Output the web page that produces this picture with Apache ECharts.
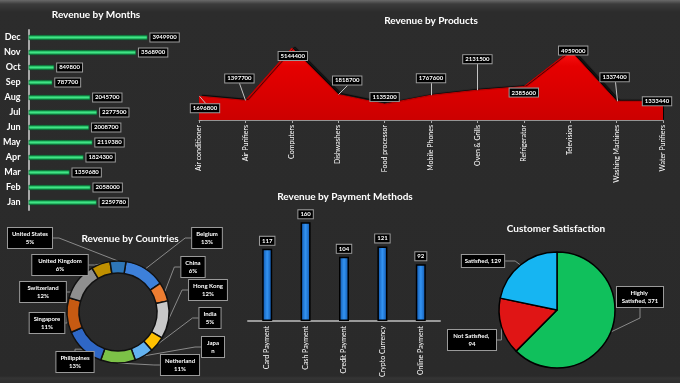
<!DOCTYPE html>
<html><head><meta charset="utf-8">
<script src="https://cdn.jsdelivr.net/npm/echarts@6/dist/echarts.min.js"></script>
<style>
html,body{margin:0;padding:0;background:#2a2a2a;}
#c{width:680px;height:383px;background:linear-gradient(to bottom,#6a6a6a 0px,#3c3c3c 4px,#2c2c2c 12px,#2a2a2a 376px,#343434 378px,#2e2e2e 383px);}
</style></head><body><div id="c"></div>
<script>
// ---- data ----
const months = ['Jan','Feb','Mar','Apr','May','Jun','Jul','Aug','Sep','Oct','Nov','Dec'];
const monthRevenue = [2259780,2058000,1359680,1824300,2119380,2008700,2277500,2045700,787700,849800,3568900,3949900];
const products = ['Air conditioner','Air Purifiers','Computers','Dishwashers','Food processor','Mobile Phones','Oven & Grills','Refrigerator','Television','Washing Machines','Water Purifiers'];
const productRevenue = [1696800,1397700,5144400,1818700,1135200,1767600,2131500,2385600,4959000,1337400,1333440];
const paymentMethods = ['Card Payment','Cash Payment','Credit Payment','Crypto Currency','Online Payment'];
const paymentValues = [117,160,104,121,92];
const countries = ['Belgium','China','Hong Kong','India','Japan','Netherland','Philippines','Singapore','Switzerland','United Kingdom','United States'];
const countryShare = [13,6,12,5,6,11,13,11,12,6,5];
const satisfactionLevels = ['Highly Satisfied','Not Satisfied','Satisfied'];
const satisfactionCounts = [371,94,129];

// ---- styles / label placement ----
const FONT = 'Lato';
const productLabelOffset = [[6,12],[-6,-22],[1,8],[9,-14],[0,-7],[0,-17],[0,-31],[0,6],[3,0],[-2,-24],[-6,0]];
const countryLabelPos = [[207,238],[193,267],[208,290],[210,318],[213,347],[180,365],[75,362],[47,323],[43,292],[60,265],[30,238]];
const satLabelPos = [[640,297],[472,340],[483,261]];
const countryColors = ['#3d80da','#ee7d31','#c8c8c8','#ffc000','#63b2f0','#7cc247','#2f67c6','#c65a12','#8f8f8f','#c09000','#2e76b8'];
const satColors = ['#10c05c','#e01515','#16b5f2'];
const G = echarts.graphic.LinearGradient;
const titleStyle = {color:'#fff', fontFamily:FONT, fontWeight:'bold', fontSize:10};
const boxLabel = {color:'#fff', fontFamily:FONT, fontWeight:'bold', fontSize:6, backgroundColor:'#000', borderColor:'#9a9a9a', borderWidth:1, padding:[1,2]};
function title(text, x, y){ return {text:text, left:x, top:y, textAlign:'center', textStyle:titleStyle, padding:0}; }

const chart = echarts.init(document.getElementById('c'), null, {renderer:'canvas'});
let errMsg = '';
try {
chart.setOption({
  backgroundColor:'transparent',
  animation:false,
  textStyle:{fontFamily:FONT},
  title:[
    title('Revenue by Months',96,10),
    title('Revenue by Products',431,16),
    title('Revenue by Payment Methods',345,192),
    title('Revenue by Countries',130,234),
    title('Customer Satisfaction',556,224)
  ],
  grid:[
    {left:27, right:501, top:30, bottom:173},
    {left:199, right:17, top:36, bottom:263},
    {left:248, right:240, top:210, bottom:62}
  ],
  xAxis:[
    {gridIndex:0, type:'value', max:5000000, show:false},
    {gridIndex:1, type:'category', data:products, boundaryGap:false,
      axisLine:{lineStyle:{color:'#a8a8a8', width:1}},
      axisTick:{show:true, length:3, lineStyle:{color:'#a8a8a8'}},
      axisLabel:{rotate:90, color:'#fff', fontSize:7, fontFamily:FONT, margin:5, interval:0}},
    {gridIndex:2, type:'category', data:paymentMethods,
      axisLine:{lineStyle:{color:'#9a9a9a', width:2}},
      axisTick:{show:false},
      axisLabel:{rotate:90, color:'#fff', fontSize:7, fontFamily:FONT, margin:5, interval:0}}
  ],
  yAxis:[
    {gridIndex:0, type:'category', data:months,
      axisLine:{lineStyle:{color:'#a8a8a8', width:2}},
      axisTick:{show:false},
      axisLabel:{color:'#fff', fontWeight:'bold', fontSize:9, fontFamily:FONT, margin:8}},
    {gridIndex:1, type:'value', min:0, max:6000000, show:false},
    {gridIndex:2, type:'value', min:0, max:180, show:false}
  ],
  series:[
    {type:'bar', xAxisIndex:0, yAxisIndex:0, data:monthRevenue, barWidth:5,
      itemStyle:{color:new G(0,0,0,1,[{offset:0,color:'#0d8f42'},{offset:0.5,color:'#40e486'},{offset:1,color:'#0a7a38'}]), borderColor:'#063', borderWidth:0.5},
      label:Object.assign({show:true, position:'right', distance:3}, boxLabel)},
    {type:'line', xAxisIndex:1, yAxisIndex:1, z:2, data:productRevenue,
      symbol:'circle', symbolSize:2, itemStyle:{color:'rgba(0,0,0,0)'},
      lineStyle:{width:1, color:'#c00000', shadowColor:'rgba(0,0,0,0.95)', shadowOffsetX:3, shadowOffsetY:-1, shadowBlur:1},
      areaStyle:{opacity:1, color:new G(0,0,0,1,[{offset:0,color:'#ff1818'},{offset:0.25,color:'#e60000'},{offset:1,color:'#cc0000'}]), shadowColor:'rgba(0,0,0,0.9)', shadowOffsetX:3, shadowBlur:2},
      label:Object.assign({show:true, position:'inside', formatter:p=>String(p.value)}, boxLabel),
      labelLayout:p=>({dx:productLabelOffset[p.dataIndex][0], dy:productLabelOffset[p.dataIndex][1]})},
    {type:'bar', xAxisIndex:2, yAxisIndex:2, data:paymentValues, barWidth:10,
      itemStyle:{color:new G(0,0,1,0,[{offset:0,color:'#0b4fa6'},{offset:0.5,color:'#3393f2'},{offset:1,color:'#0b4fa6'}]), borderColor:'#000', borderWidth:1.5},
      label:Object.assign({show:true, position:'top', distance:4}, boxLabel)},
    {type:'pie', center:[118,312], radius:[39,51], startAngle:81, clockwise:true,
      data:countries.map((n,i)=>({name:n, value:countryShare[i], itemStyle:{color:countryColors[i]},
        label: n==='Japan' ? {width:14, overflow:'breakAll', formatter:'{b}'} : {}})),
      itemStyle:{borderColor:'#111', borderWidth:1.5},
      label:Object.assign({}, boxLabel, {padding:[2,4], lineHeight:8, align:'center', formatter:'{b}\n{c}%'}),
      labelLine:{length:6, length2:6, lineStyle:{color:'#8a8a8a', width:1}},
      labelLayout:p=>({x:countryLabelPos[p.dataIndex][0], y:countryLabelPos[p.dataIndex][1], align:'center', verticalAlign:'middle'})},
    {type:'pie', center:[557,310], radius:58, startAngle:90, clockwise:true,
      data:satisfactionLevels.map((n,i)=>({name:n, value:satisfactionCounts[i], itemStyle:{color:satColors[i]},
        label: i===0 ? {width:40, overflow:'break'} : (i===1 ? {width:42, overflow:'break'} : {})})),
      itemStyle:{borderColor:'#000', borderWidth:1.5},
      label:Object.assign({}, boxLabel, {padding:[2,3], lineHeight:8, align:'center', formatter:'{b}, {c}'}),
      labelLine:{length:8, length2:10, lineStyle:{color:'#8a8a8a', width:1}},
      labelLayout:p=>({x:satLabelPos[p.dataIndex][0], y:satLabelPos[p.dataIndex][1], align:'center', verticalAlign:'middle'})}
  ]
});
} catch (e) { errMsg = 'ERR1: ' + e.message; }

// leader lines for the moved product labels, placed through the area series' own scales
const leaders = [];
try {
  productRevenue.forEach((v, i) => {
    const o = productLabelOffset[i];
    if (Math.abs(o[1]) < 10) return;
    const p = chart.convertToPixel({xAxisIndex:1, yAxisIndex:1}, [i, v]);
    if (!p || !isFinite(p[0]) || !isFinite(p[1])) { errMsg += ' badp' + i + ':' + JSON.stringify(p); return; }
    const sgn = o[1] < 0 ? 1 : -1;
    leaders.push({type:'line', z:100, silent:true,
      shape:{x1:Math.round(p[0])+0.5, y1:p[1], x2:Math.round(p[0]+o[0])+0.5, y2:p[1]+o[1]+sgn*5},
      style:{stroke:'#c4c4c4', lineWidth:1}});
  });
} catch (e) { errMsg += ' ERR2: ' + e.message; }
if (errMsg) leaders.push({type:'text', left:250, top:140, z:200, style:{text:errMsg, fill:'#ff0', fontSize:9, width:420, overflow:'break'}});
try { chart.setOption({graphic:leaders}); } catch (e) { /* ignore */ }
</script></body></html>
